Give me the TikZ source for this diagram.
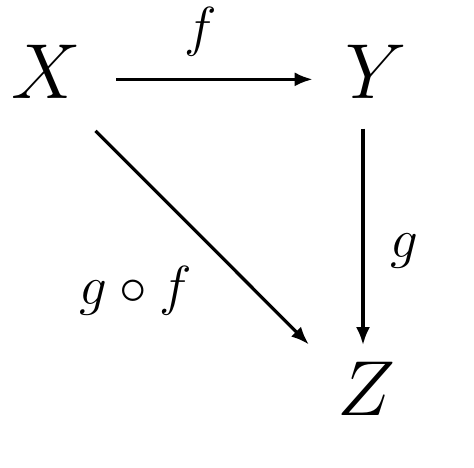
\documentclass[tikz,border=0pt]{standalone}
\usetikzlibrary{arrows.meta, positioning}
\tikzset{
  % Set arrowhead
  >={Latex[length=18pt, width=14pt]},
  % Object node
  obj/.style={inner sep=0pt, font=\Huge, scale=3.135},
  % Label node
  lbl/.style={inner sep=0pt, font=\Huge, scale=2.21},
  % Morphism
  map/.style={->, line width=3.2pt},
}
\begin{document}
\begin{tikzpicture}[x=1pt, y=-1pt]
      \useasboundingbox (0,0) rectangle (474,467);

      \node[obj, anchor=base] (X) at (46,98) {$X$};
      \node[obj, anchor=base] (Y) at (376,98) {$Y$};
      \node[obj, anchor=base] (Z) at (366,415) {$Z$};

      \draw[map, shorten <=35pt, shorten >=32pt] ([yshift=-8pt]X.east) --
      node[lbl, above=20pt, xshift=-5.5pt] {$f$} ([yshift=-8pt]Y.west);
      \draw[map, shorten <=30pt, shorten >=16pt] ([xshift=-13pt]Y.south) --
      node[lbl, pos=0.58, right=24pt] {$g$} ([xshift=-3pt]Z.north);
      \draw[map, shorten <=20pt, shorten >=39pt] ([yshift=-18pt]X.south east) --
      node[lbl, pos=0.51, anchor=north east, below left=23pt] {$g\circ f$}
      ([yshift=-11pt]Z.north west);
    \end{tikzpicture}
\end{document}
